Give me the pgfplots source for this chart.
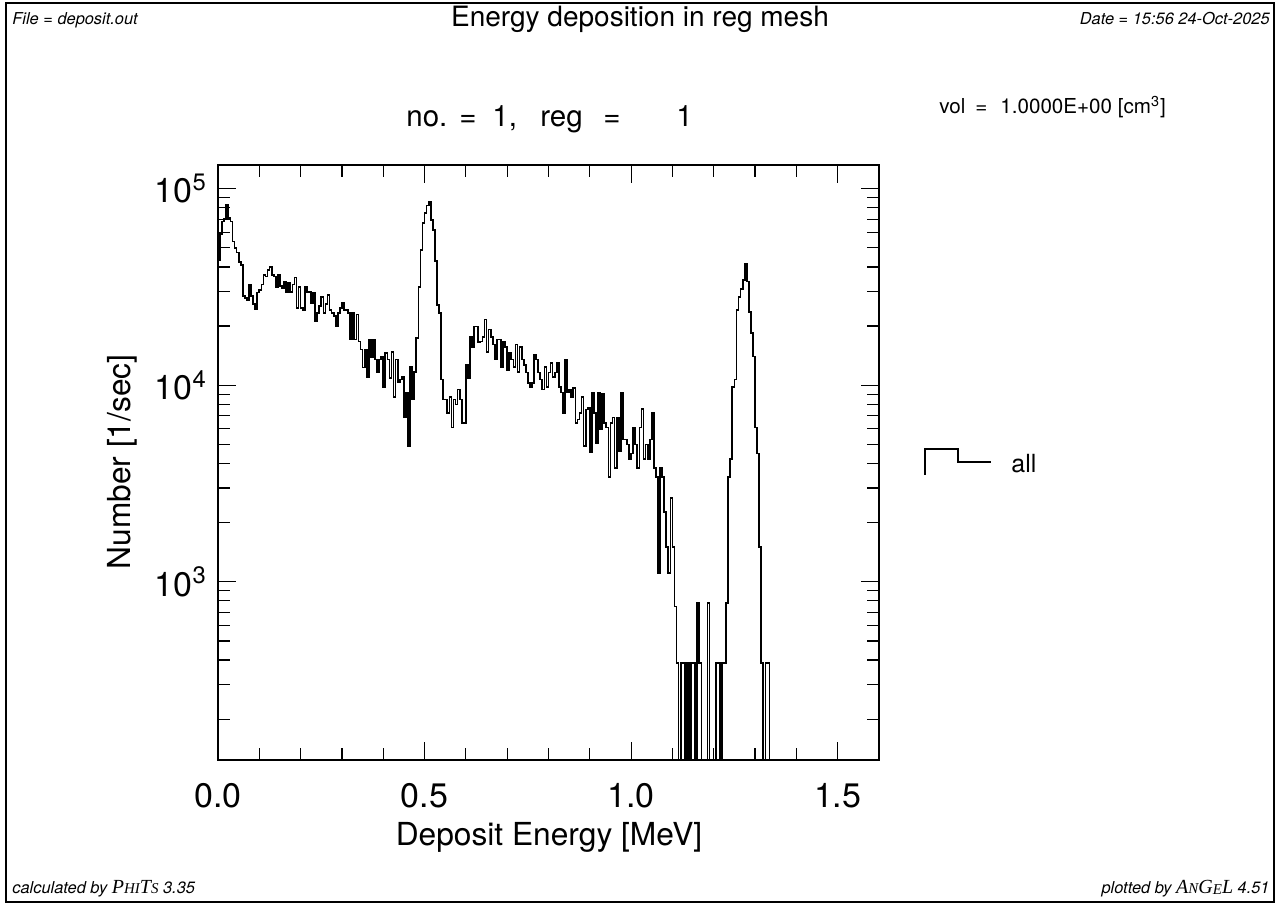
\documentclass[border=0pt]{standalone}
\usepackage{pgfplots}
\pgfplotsset{compat=1.18}
\usepackage{fontspec}
\setmainfont{TeX Gyre Heros}
\newfontfamily\timesf{Liberation Serif}
\newcommand{\fs}[1]{\fontsize{#1}{#1}\selectfont}
\begin{document}
\begin{tikzpicture}
\useasboundingbox (0pt,0pt) rectangle (639pt,452.5pt);
\begin{axis}[
  at={(109pt,72.5pt)}, anchor=south west, scale only axis,
  width=330.5pt, height=297.5pt,
  xmin=0, xmax=1.6, ymode=log, log basis y=10, ymin=124, ymax=1.32e5,
  axis line style={line width=1pt},
  every tick/.style={black, line width=0.6pt},
  tick align=inside, tick pos=both,
  major tick length=9pt, minor tick length=6pt,
  xtick={0,0.5,1,1.5}, xticklabels={0.0,0.5,1.0,1.5},
  minor x tick num=4,
  ytick={100,1000,10000,100000,1000000},
  minor ytick={200,300,400,500,600,700,800,900,2000,3000,4000,5000,6000,7000,8000,9000,20000,30000,40000,50000,60000,70000,80000,90000},
  yticklabel={10\textsuperscript{\pgfmathparse{int(round(\tick))}\pgfmathresult}},
  /pgf/number format/assume math mode=true,
  ticklabel style={font=\fs{17}},
  xticklabel style={anchor=base, yshift=-23.5pt},
  yticklabel style={anchor=east, xshift=-2pt},
  clip=true,
]
\addplot[const plot, black, line width=0.85pt] coordinates {
(0,43500)(0.005,59000)(0.01,68000)(0.015,70400)(0.02,82900)(0.025,71000)(0.03,68000)(0.035,53800)(0.04,50100)(0.045,47300)
(0.05,42500)(0.055,41000)(0.06,28500)(0.065,27800)(0.07,27200)(0.075,32500)(0.08,28500)(0.085,26000)(0.09,24500)(0.095,29600)
(0.1,30600)(0.105,32500)(0.11,36500)(0.115,35700)(0.12,38700)(0.125,40000)(0.13,36500)(0.135,35700)(0.14,31700)(0.145,36500)
(0.15,32100)(0.155,31300)(0.16,33700)(0.165,29600)(0.17,33000)(0.175,29900)(0.18,32500)(0.185,35300)(0.19,24800)(0.195,31700)
(0.2,24800)(0.205,24200)(0.21,31700)(0.215,29900)(0.22,29900)(0.225,26200)(0.23,29600)(0.235,21100)(0.24,23400)(0.245,25200)
(0.25,28200)(0.255,23400)(0.26,26000)(0.265,28900)(0.27,24200)(0.275,23400)(0.28,22500)(0.285,19900)(0.29,23400)(0.295,24800)
(0.3,26200)(0.305,24200)(0.31,24200)(0.315,23400)(0.32,17100)(0.325,23400)(0.33,17100)(0.335,22900)(0.34,16700)(0.345,15200)
(0.35,12300)(0.355,15200)(0.36,11000)(0.365,17100)(0.37,13900)(0.375,17100)(0.38,13500)(0.385,11600)(0.39,13500)(0.395,13900)
(0.4,9800)(0.405,14600)(0.41,13500)(0.415,10900)(0.42,14800)(0.425,8700)(0.43,13500)(0.435,10400)(0.44,10700)(0.445,11000)
(0.45,6900)(0.455,9200)(0.46,4900)(0.465,12400)(0.47,8460)(0.475,11700)(0.48,17400)(0.485,31700)(0.49,48900)(0.495,67000)
(0.5,75500)(0.505,82000)(0.51,86200)(0.515,69500)(0.52,61800)(0.525,42700)(0.53,25700)(0.535,23400)(0.54,10700)(0.545,8460)
(0.55,8460)(0.555,7200)(0.56,8700)(0.565,6100)(0.57,8460)(0.575,7980)(0.58,9500)(0.585,8460)(0.59,6450)(0.595,6450)
(0.6,12700)(0.605,10900)(0.61,17600)(0.615,15700)(0.62,19900)(0.625,19900)(0.63,16500)(0.635,16700)(0.64,17600)(0.645,21600)
(0.65,14800)(0.655,19200)(0.66,17600)(0.665,16100)(0.67,13500)(0.675,17100)(0.68,17100)(0.685,12300)(0.69,16700)(0.695,15700)
(0.7,12000)(0.705,14600)(0.71,13500)(0.715,12400)(0.72,16100)(0.725,11700)(0.73,15700)(0.735,13500)(0.74,12700)(0.745,11600)
(0.75,10300)(0.755,9800)(0.76,10300)(0.765,14300)(0.77,13500)(0.775,11600)(0.78,10700)(0.785,9500)(0.79,12400)(0.795,9800)
(0.8,11600)(0.805,13000)(0.81,11000)(0.815,11600)(0.82,13000)(0.825,9800)(0.83,9200)(0.835,7200)(0.84,13500)(0.845,9200)
(0.85,9500)(0.855,8700)(0.86,9700)(0.865,6450)(0.87,6700)(0.875,7200)(0.88,8700)(0.885,4900)(0.89,7530)(0.895,7700)
(0.9,4550)(0.905,9200)(0.91,7200)(0.915,5100)(0.92,9200)(0.925,5960)(0.93,9000)(0.935,6450)(0.94,6100)(0.945,3420)
(0.95,6450)(0.955,6850)(0.96,3800)(0.965,6850)(0.97,4600)(0.975,9100)(0.98,5300)(0.985,5300)(0.99,5000)(0.995,4200)
(1.0,4500)(1.005,6100)(1.01,5000)(1.015,3800)(1.02,6100)(1.025,7600)(1.03,4200)(1.035,5000)(1.04,4200)(1.045,5300)
(1.05,7200)(1.055,3800)(1.06,3420)(1.065,1110)(1.07,3800)(1.075,3420)(1.08,2260)(1.085,1500)(1.09,1110)(1.095,2670)
(1.1,1500)(1.105,750)(1.11,387)(1.115,1)(1.12,387)(1.125,387)(1.13,1)(1.135,387)(1.14,1)(1.145,387)
(1.15,387)(1.155,1)(1.16,780)(1.165,387)(1.17,1)(1.175,1)(1.18,1)(1.185,780)(1.19,1)(1.195,1)
(1.2,1)(1.205,387)(1.21,387)(1.215,1)(1.22,387)(1.225,387)(1.23,780)(1.235,3400)(1.24,4200)(1.245,9800)
(1.25,10700)(1.255,24200)(1.26,28200)(1.265,31000)(1.27,34400)(1.275,41500)(1.28,33700)(1.285,23600)(1.29,18500)(1.295,14000)
(1.3,6100)(1.305,4500)(1.31,1500)(1.315,387)(1.32,1)(1.325,387)(1.33,387)(1.335,1)(1.34,1)
};
\end{axis}
\begin{scope}[x=0.5pt,y=0.5pt]
\draw[line width=0.8pt] (6,3) rectangle (1274,902);
\node[anchor=base west, inner sep=0] at (12,880) {\fs{8.2}\itshape File = deposit.out};
\node[anchor=base east, inner sep=0] at (1270,880) {\fs{8.2}\itshape Date = 15:56 24-Oct-2025};
\node[anchor=base, inner sep=0] at (640,878) {\fs{14}Energy deposition in reg mesh};
\node[anchor=base west, inner sep=0] at (406,778) {\fs{14.75}no.};
\node[anchor=base west, inner sep=0] at (459,778) {\fs{14.75}=};
\node[anchor=base west, inner sep=0] at (492,778) {\fs{14.75}1,};
\node[anchor=base west, inner sep=0] at (540,778) {\fs{14.75}reg};
\node[anchor=base west, inner sep=0] at (603,778) {\fs{14.75}=};
\node[anchor=base west, inner sep=0] at (676,778) {\fs{14.75}1};
\node[anchor=base west, inner sep=0] at (939,791) {\fs{10.3}vol};
\node[anchor=base west, inner sep=0] at (975,791) {\fs{10.3}=};
\node[anchor=base west, inner sep=0] at (1000,791) {\fs{10.3}1.0000E+00 [cm\textsuperscript{3}]};
\node[anchor=base, inner sep=0, rotate=90] at (130,443) {\fs{15.85}Number [1/sec]};
\node[anchor=base, inner sep=0] at (549,60) {\fs{15.85}Deposit Energy [MeV]};
\draw[line width=1pt] (925,430) -- (925,456) -- (958,456) -- (958,443) -- (991,443);
\node[anchor=base west, inner sep=0] at (1011,432) {\fs{12.5}all};
\node[anchor=base west, inner sep=0] at (12,12) {\fs{8.2}\itshape calculated by {\timesf\fs{10}P\fs{7.5}HI\fs{10}T\fs{7.5}S} 3.35};
\node[anchor=base east, inner sep=0] at (1270,12) {\fs{8.2}\itshape plotted by {\timesf\fs{10}A\fs{7.5}N\fs{10}G\fs{7.5}\raisebox{-0.25ex}{E}\fs{10}L} 4.51};
\end{scope}
\end{tikzpicture}
\end{document}
